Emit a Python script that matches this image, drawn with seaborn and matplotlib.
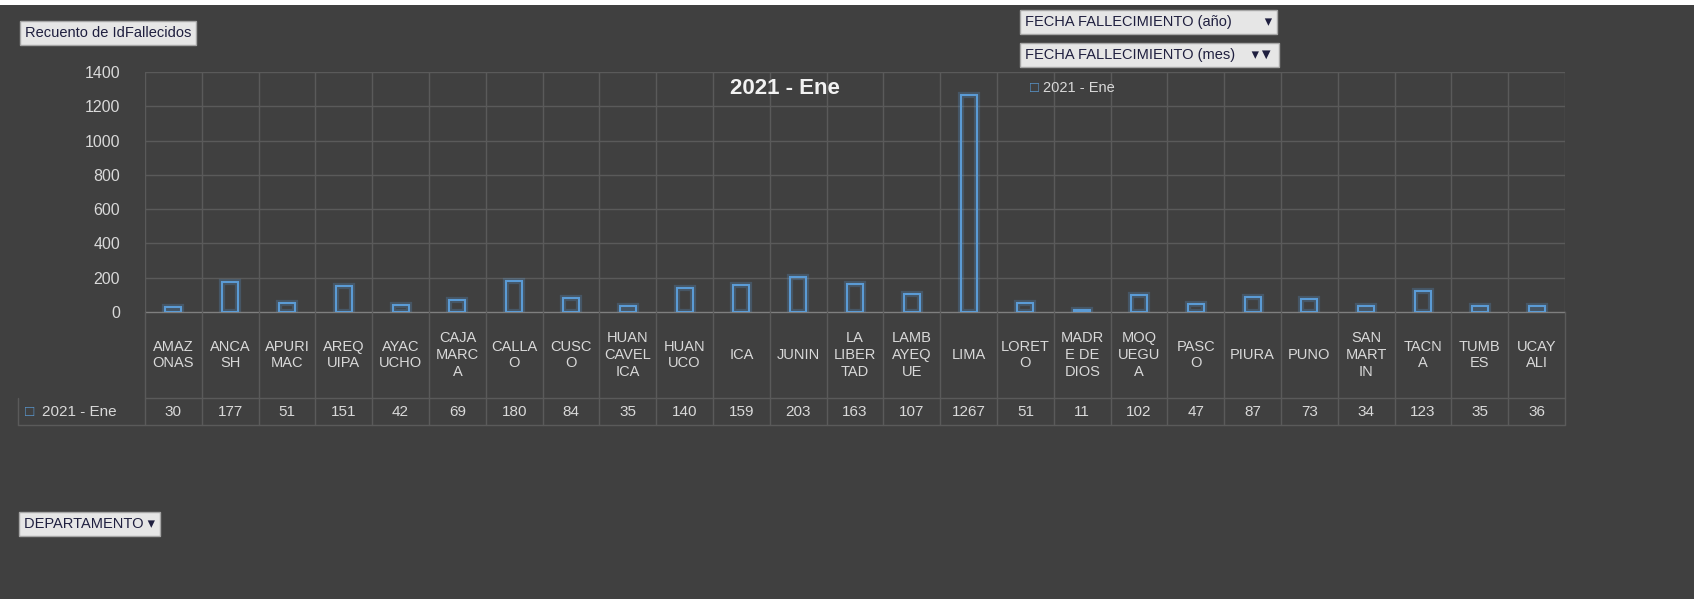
import matplotlib
matplotlib.use("Agg")
import matplotlib.pyplot as plt
import matplotlib.patheffects as pe
import seaborn as sns
import pandas as pd

departamentos = ["AMAZONAS", "ANCASH", "APURIMAC", "AREQUIPA", "AYACUCHO", "CAJAMARCA",
                 "CALLAO", "CUSCO", "HUANCAVELICA", "HUANUCO", "ICA", "JUNIN", "LA LIBERTAD",
                 "LAMBAYEQUE", "LIMA", "LORETO", "MADRE DE DIOS", "MOQUEGUA", "PASCO",
                 "PIURA", "PUNO", "SAN MARTIN", "TACNA", "TUMBES", "UCAYALI"]
etiquetas = ["AMAZ\nONAS", "ANCA\nSH", "APURI\nMAC", "AREQ\nUIPA", "AYAC\nUCHO", "CAJA\nMARC\nA",
             "CALLA\nO", "CUSC\nO", "HUAN\nCAVEL\nICA", "HUAN\nUCO", "ICA", "JUNIN", "LA\nLIBER\nTAD",
             "LAMB\nAYEQ\nUE", "LIMA", "LORET\nO", "MADR\nE DE\nDIOS", "MOQ\nUEGU\nA", "PASC\nO",
             "PIURA", "PUNO", "SAN\nMART\nIN", "TACN\nA", "TUMB\nES", "UCAY\nALI"]
fallecidos = [30, 177, 51, 151, 42, 69, 180, 84, 35, 140, 159, 203, 163, 107, 1267,
              51, 11, 102, 47, 87, 73, 34, 123, 35, 36]
serie = "2021 - Ene"

BG = "#404040"
GRID = "#5a5a5a"
TXT = "#d9d9d9"
BLUE = "#5b9bd5"
FONT = ["Liberation Sans", "DejaVu Sans"]

sns.set_theme(style="dark")
plt.rcParams["font.family"] = FONT

fig = plt.figure(figsize=(16.94, 5.99), dpi=100, facecolor=BG)
ax = fig.add_axes([145 / 1694, 1 - 312 / 599, 1420 / 1694, 240 / 599], facecolor=BG)

df = pd.DataFrame({"dep": departamentos, "n": fallecidos})
sns.barplot(data=df, x="dep", y="n", ax=ax, width=0.28, fill=False,
            color=BLUE, linewidth=1.5, zorder=3)
for p in ax.patches:
    p.set_edgecolor(BLUE)
    p.set_linewidth(1.5)
    p.set_path_effects([pe.Stroke(linewidth=4.5, foreground=BLUE, alpha=0.25), pe.Normal()])

n = len(departamentos)
ax.set_xlim(-0.5, n - 0.5)
ax.set_ylim(0, 1400)
ax.set_yticks(range(0, 1401, 200))
ax.tick_params(axis="y", colors=TXT, labelsize=11.5, length=0, pad=18)
ax.set_xticks([])
ax.set_xlabel("")
ax.set_ylabel("")
for s in ax.spines.values():
    s.set_visible(False)
for y in range(200, 1401, 200):
    ax.axhline(y, color=GRID, lw=1, zorder=1)
for i in range(n + 1):
    ax.axvline(i - 0.5, color=GRID, lw=1, zorder=1)

# data table under the chart
tr = ax.get_xaxis_transform()
row1, row2 = -86 / 240, -113 / 240
kw = dict(color=GRID, lw=1, clip_on=False, transform=tr)
ax.plot([-0.5, n - 0.5], [0, 0], color="#7f7f7f", lw=1, clip_on=False, transform=tr)
ax.plot([-0.5, n - 0.5], [row1, row1], **kw)
x0 = -0.5 - 127 / (1420 / n)
ax.plot([x0, n - 0.5], [row2, row2], **kw)
ax.plot([x0, x0], [row1, row2], **kw)
for i in range(n + 1):
    ax.plot([i - 0.5, i - 0.5], [0, row2], **kw)
for i, (lab, v) in enumerate(zip(etiquetas, fallecidos)):
    ax.text(i, row1 / 2, lab, transform=tr, ha="center", va="center", color=TXT,
            fontsize=10.5, linespacing=1.25)
    ax.text(i, (row1 + row2) / 2, str(v), transform=tr, ha="center", va="center",
            color=TXT, fontsize=11)
ax.text(x0 + 0.12, (row1 + row2) / 2, "\u25a1", transform=tr, ha="left",
        va="center", color=BLUE, fontsize=11)
ax.text(x0 + 0.42, (row1 + row2) / 2, serie, transform=tr, ha="left",
        va="center", color=TXT, fontsize=11)

# title and legend
fig.text(785 / 1694, 1 - 88 / 599, serie, ha="center", va="center", color="#f2f2f2",
         fontsize=16, fontweight="bold")
fig.text(1030 / 1694, 1 - 88 / 599, "\u25a1", ha="left", va="center", color=BLUE, fontsize=10.5)
fig.text(1043 / 1694, 1 - 88 / 599, serie, ha="left", va="center", color=TXT, fontsize=10.5)

# pivot field buttons
btn = dict(boxstyle="square,pad=0.35", facecolor="#e6e6e6", edgecolor="#a6a6a6")
fig.text(25 / 1694, 1 - 33 / 599, "Recuento de IdFallecidos", ha="left", va="center",
         fontsize=10.5, color="#1f1f3f", bbox=btn)
fig.text(1025 / 1694, 1 - 22 / 599, "FECHA FALLECIMIENTO (año)        \u25be", ha="left",
         va="center", fontsize=10.5, color="#1f1f3f", bbox=btn)
fig.text(1025 / 1694, 1 - 55 / 599, "FECHA FALLECIMIENTO (mes)    \u25be\u25bc", ha="left",
         va="center", fontsize=10.5, color="#1f1f3f", bbox=btn)
fig.text(24 / 1694, 1 - 524 / 599, "DEPARTAMENTO \u25be", ha="left", va="center",
         fontsize=10.5, color="#1f1f3f", bbox=btn)

# spreadsheet strip at the top
fig.patches.append(plt.Rectangle((0, 1 - 5 / 599), 1, 5 / 599, transform=fig.transFigure,
                                 facecolor="white", edgecolor="none"))

fig.savefig("out.png", dpi=100, facecolor=BG)
